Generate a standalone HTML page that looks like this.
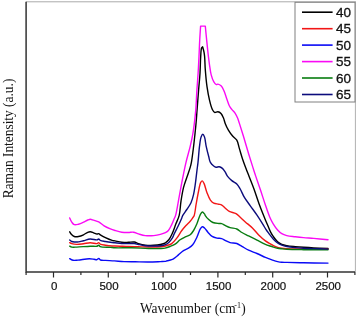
<!DOCTYPE html>
<html lang="en"><head><meta charset="utf-8"><title>Raman spectra</title>
<style>html,body{margin:0;padding:0;background:#fff;}body{width:357px;height:317px;overflow:hidden;}</style>
</head><body>
<svg width="357" height="317" viewBox="0 0 357 317" style="display:block">
<rect x="0" y="0" width="357" height="317" fill="#fff"/>
<path d="M26.1,1.8 H355.9" fill="none" stroke="#aaaaaa" stroke-width="1"/>
<path d="M355.4,1.8 V272.0" fill="none" stroke="#b0b0b0" stroke-width="1"/>
<path d="M69.70,231.80 C69.70,231.80 70.99,234.00 71.80,234.80 C72.54,235.53 73.30,236.19 74.30,236.50 C75.47,236.86 77.06,236.74 78.50,236.50 C80.12,236.23 81.94,235.52 83.50,234.80 C85.00,234.11 86.43,232.78 87.70,232.30 C88.64,231.94 89.39,231.75 90.30,231.80 C91.34,231.85 92.50,232.44 93.60,232.80 C94.73,233.17 96.05,233.95 97.00,234.00 C97.66,234.04 98.17,233.49 98.70,233.60 C99.27,233.72 99.60,234.34 100.30,234.80 C101.50,235.59 103.55,236.81 105.40,237.70 C107.45,238.69 110.31,239.89 112.10,240.40 C113.25,240.73 113.84,240.68 115.00,240.90 C116.77,241.24 119.45,242.07 121.70,242.30 C123.92,242.53 126.24,242.35 128.40,242.30 C130.43,242.25 132.53,241.72 134.30,242.00 C135.85,242.24 136.91,243.13 138.50,243.60 C140.48,244.19 142.90,244.81 145.30,245.10 C147.94,245.42 151.06,245.43 153.70,245.30 C156.06,245.19 158.35,244.97 160.40,244.50 C162.21,244.09 163.96,243.63 165.40,242.80 C166.73,242.03 167.76,241.10 168.80,239.80 C170.12,238.15 171.20,235.79 172.30,233.40 C173.60,230.56 174.71,226.89 175.90,223.80 C177.01,220.90 178.38,218.63 179.20,215.40 C180.24,211.32 180.27,205.79 181.00,201.10 C181.71,196.52 182.44,191.74 183.50,187.60 C184.43,183.96 185.68,180.86 186.80,177.50 C187.92,174.13 189.40,170.20 190.20,167.40 C190.76,165.46 191.00,164.55 191.40,162.40 C192.12,158.59 192.99,151.33 193.60,146.40 C194.12,142.17 194.48,138.53 194.90,134.60 C195.32,130.67 195.74,126.86 196.10,122.80 C196.48,118.48 196.73,114.28 197.10,109.40 C197.55,103.53 198.10,96.23 198.60,90.00 C199.07,84.20 199.65,78.80 200.00,73.20 C200.35,67.60 200.36,61.05 200.70,56.40 C200.94,53.08 200.95,49.35 201.60,47.90 C201.87,47.29 202.60,46.80 202.60,46.80 C202.60,46.80 203.66,50.42 204.00,52.10 C204.30,53.60 204.42,54.57 204.60,56.40 C204.91,59.63 204.94,65.08 205.30,69.80 C205.71,75.11 206.24,81.41 207.00,86.70 C207.68,91.44 208.52,96.06 209.50,100.10 C210.33,103.51 211.18,107.22 212.30,109.40 C213.00,110.76 213.63,112.04 214.60,112.40 C215.52,112.74 216.84,111.54 217.90,111.70 C218.98,111.86 220.13,112.51 221.00,113.40 C222.07,114.49 222.80,116.45 223.50,118.10 C224.21,119.78 224.47,121.56 225.20,123.40 C226.05,125.53 227.16,127.99 228.40,130.10 C229.63,132.19 231.12,134.25 232.60,136.00 C233.94,137.58 235.71,138.39 236.80,140.20 C238.13,142.40 238.49,145.62 239.40,148.60 C240.44,152.00 241.54,156.03 242.70,159.50 C243.78,162.74 244.98,165.86 246.10,168.80 C247.11,171.47 248.00,173.59 249.10,176.40 C250.47,179.90 252.12,183.90 253.70,188.20 C255.57,193.29 257.55,199.74 259.50,205.00 C261.25,209.74 263.25,214.60 264.80,218.40 C265.96,221.24 266.91,223.45 267.90,225.80 C268.80,227.93 269.54,230.02 270.50,231.90 C271.39,233.63 272.28,235.12 273.40,236.70 C274.62,238.42 276.08,240.49 277.60,241.80 C278.91,242.92 280.29,243.67 281.80,244.30 C283.35,244.95 284.90,245.24 286.80,245.60 C289.23,246.06 292.40,246.32 295.20,246.60 C298.00,246.88 300.67,247.09 303.60,247.30 C306.81,247.53 310.04,247.73 313.70,247.90 C318.05,248.11 328.00,248.40 328.00,248.40" fill="none" stroke="#000000" stroke-width="1.4" stroke-linejoin="round" stroke-linecap="round"/>
<path d="M69.70,242.70 C69.70,242.70 70.93,243.44 71.80,243.70 C73.09,244.09 75.01,244.37 76.80,244.40 C78.87,244.44 81.26,243.98 83.50,243.70 C85.76,243.42 88.04,242.71 90.30,242.70 C92.54,242.69 95.53,243.86 97.00,243.60 C97.78,243.46 98.16,242.64 98.70,242.70 C99.27,242.77 99.55,243.72 100.30,244.10 C101.47,244.69 103.58,244.90 105.40,245.20 C107.47,245.55 110.33,245.89 112.10,246.00 C113.26,246.07 113.68,245.98 115.00,246.00 C117.84,246.05 124.25,246.36 128.40,246.50 C132.00,246.62 135.13,246.72 138.50,246.80 C141.87,246.88 145.10,247.00 148.60,247.00 C152.38,247.01 157.31,247.07 160.40,246.80 C162.43,246.62 163.94,246.35 165.40,246.00 C166.57,245.72 167.47,245.39 168.50,245.00 C169.57,244.60 170.60,244.38 171.70,243.60 C173.32,242.45 175.19,240.16 176.80,238.10 C178.57,235.84 180.14,232.73 181.80,230.50 C183.21,228.61 184.57,227.06 186.00,225.50 C187.37,224.01 189.02,222.67 190.20,221.30 C191.19,220.15 191.99,218.96 192.70,217.90 C193.29,217.02 193.76,216.59 194.20,215.40 C195.06,213.08 195.41,208.25 196.10,204.40 C196.86,200.15 197.76,194.94 198.60,191.00 C199.27,187.87 199.67,184.27 200.60,182.60 C201.09,181.72 201.76,180.85 202.30,180.90 C202.90,180.96 203.44,182.25 204.00,183.40 C205.01,185.47 205.88,189.80 207.00,192.70 C208.03,195.37 209.06,198.36 210.40,200.20 C211.39,201.56 212.37,202.53 213.70,203.20 C215.13,203.92 217.33,203.84 218.80,204.20 C219.94,204.48 220.83,204.56 221.80,205.10 C222.95,205.74 223.92,207.01 225.10,208.00 C226.41,209.10 227.64,210.48 229.30,211.40 C231.20,212.45 234.07,212.61 236.00,213.70 C237.76,214.70 238.99,216.17 240.50,217.50 C242.09,218.90 243.53,220.33 245.30,221.90 C247.42,223.78 250.17,225.82 252.40,228.00 C254.64,230.19 256.50,232.83 258.70,235.00 C260.84,237.12 263.28,239.33 265.40,240.90 C267.10,242.16 268.84,243.06 270.30,243.90 C271.44,244.56 272.27,245.06 273.40,245.60 C274.68,246.21 276.18,246.86 277.60,247.30 C278.98,247.72 280.33,247.97 281.80,248.20 C283.39,248.45 284.64,248.57 286.80,248.70 C290.75,248.93 297.48,248.91 303.60,249.00 C310.98,249.11 328.00,249.30 328.00,249.30" fill="none" stroke="#f21616" stroke-width="1.4" stroke-linejoin="round" stroke-linecap="round"/>
<path d="M69.70,258.70 C69.70,258.70 71.75,260.04 73.00,260.30 C74.46,260.60 76.01,260.26 78.00,260.10 C80.99,259.85 86.24,258.73 89.20,258.70 C91.13,258.68 92.62,259.00 94.00,259.20 C95.06,259.35 95.97,259.87 96.80,259.70 C97.56,259.55 98.18,258.34 98.80,258.40 C99.41,258.45 99.71,259.65 100.50,260.00 C101.65,260.51 103.52,260.27 105.40,260.40 C107.95,260.57 111.35,260.70 114.40,260.90 C117.55,261.10 120.67,261.45 124.00,261.60 C127.59,261.76 131.30,261.74 135.20,261.80 C139.47,261.87 144.28,262.04 148.60,262.00 C152.66,261.96 157.38,261.72 160.40,261.60 C162.29,261.53 163.77,261.60 165.00,261.40 C165.85,261.26 166.26,261.02 167.10,260.80 C168.33,260.48 170.33,260.26 171.70,259.70 C172.94,259.19 173.92,258.47 175.00,257.70 C176.15,256.88 177.15,255.93 178.40,254.90 C179.93,253.64 181.74,251.84 183.50,250.70 C185.12,249.65 186.96,249.19 188.50,248.20 C190.02,247.22 191.43,246.31 192.70,244.80 C194.31,242.88 195.64,239.84 196.90,237.20 C198.18,234.51 199.13,230.57 200.30,228.80 C200.95,227.81 201.58,226.90 202.30,226.80 C202.98,226.70 203.75,227.38 204.50,228.00 C205.60,228.92 206.67,230.83 207.90,232.20 C209.19,233.63 210.51,235.41 212.10,236.40 C213.60,237.33 215.45,237.73 217.10,238.10 C218.65,238.44 220.32,238.18 221.70,238.60 C222.96,238.99 223.85,239.79 225.10,240.40 C226.59,241.12 228.27,242.09 230.10,242.60 C232.13,243.17 234.77,242.83 236.80,243.50 C238.68,244.12 240.09,245.28 241.90,246.30 C243.99,247.48 246.19,249.03 248.60,250.20 C251.20,251.46 254.22,252.31 257.00,253.50 C259.82,254.71 263.00,256.40 265.40,257.40 C267.15,258.13 268.58,258.57 270.00,259.10 C271.22,259.56 272.20,260.00 273.40,260.40 C274.72,260.84 276.19,261.28 277.60,261.60 C278.99,261.91 280.33,262.16 281.80,262.30 C283.39,262.45 284.64,262.35 286.80,262.40 C290.75,262.49 297.48,262.69 303.60,262.80 C310.98,262.93 328.00,263.10 328.00,263.10" fill="none" stroke="#0a0af5" stroke-width="1.4" stroke-linejoin="round" stroke-linecap="round"/>
<path d="M69.70,218.00 C69.70,218.00 70.96,221.04 71.80,222.20 C72.53,223.21 73.25,224.34 74.30,224.70 C75.44,225.10 77.06,224.57 78.50,224.20 C80.12,223.79 81.92,222.93 83.50,222.20 C84.98,221.52 86.45,220.52 87.70,220.00 C88.65,219.61 89.38,219.20 90.30,219.20 C91.33,219.20 92.38,219.81 93.60,220.20 C95.12,220.68 97.07,221.05 98.70,221.90 C100.45,222.81 101.86,224.48 103.70,225.60 C105.72,226.83 108.35,228.04 110.40,228.90 C112.05,229.59 113.31,229.99 115.00,230.50 C117.01,231.10 119.45,231.87 121.70,232.20 C123.92,232.53 126.32,232.51 128.40,232.50 C130.22,232.49 131.83,231.97 133.50,232.20 C135.20,232.43 136.69,233.37 138.50,233.90 C140.58,234.51 142.89,235.30 145.30,235.60 C147.93,235.92 151.07,235.83 153.70,235.60 C156.07,235.39 158.35,234.93 160.40,234.40 C162.21,233.93 163.99,233.43 165.40,232.70 C166.58,232.08 167.48,231.54 168.40,230.50 C169.64,229.09 170.72,226.58 171.70,224.60 C172.65,222.68 173.49,220.48 174.20,218.80 C174.74,217.52 175.13,216.96 175.60,215.40 C176.53,212.30 177.44,206.18 178.40,201.10 C179.49,195.33 180.57,188.89 181.80,182.60 C183.09,176.01 184.51,168.72 186.00,162.40 C187.33,156.74 189.03,151.34 190.20,146.40 C191.20,142.18 192.00,138.54 192.70,134.60 C193.40,130.68 193.90,126.86 194.40,122.80 C194.94,118.48 195.41,114.28 195.80,109.40 C196.27,103.53 196.50,96.23 196.90,90.00 C197.27,84.20 197.75,78.80 198.10,73.20 C198.45,67.60 198.73,61.93 199.00,56.40 C199.26,51.00 199.42,45.58 199.70,40.40 C199.96,35.50 200.60,26.10 200.60,26.10 C200.60,26.10 205.30,26.10 205.30,26.10 C205.30,26.10 206.20,35.50 206.70,40.40 C207.23,45.58 207.87,51.92 208.40,56.40 C208.79,59.65 209.06,61.88 209.50,64.80 C209.98,68.02 210.40,71.91 211.20,74.90 C211.87,77.40 212.68,79.88 213.70,81.60 C214.46,82.88 215.46,84.36 216.30,84.60 C216.85,84.75 217.28,84.04 217.90,84.10 C218.84,84.20 220.33,85.01 221.30,86.00 C222.52,87.24 223.33,89.41 224.20,91.40 C225.19,93.68 225.92,96.55 226.80,99.00 C227.63,101.31 228.34,103.84 229.30,105.70 C230.06,107.17 230.86,108.18 231.80,109.40 C232.81,110.71 234.23,111.85 235.20,113.30 C236.21,114.81 237.00,116.60 237.70,118.30 C238.39,119.97 238.72,121.29 239.40,123.40 C240.50,126.80 242.16,132.07 243.60,136.80 C245.21,142.10 246.99,148.40 248.60,153.70 C250.04,158.43 251.51,163.04 252.80,167.10 C253.88,170.48 254.68,173.02 255.80,176.40 C257.15,180.47 258.85,185.19 260.40,189.80 C262.05,194.70 263.77,200.27 265.40,205.00 C266.83,209.17 268.15,213.31 269.60,216.70 C270.77,219.43 271.84,221.65 273.20,223.90 C274.52,226.07 276.05,228.29 277.60,230.00 C278.94,231.47 280.25,232.76 281.80,233.70 C283.32,234.62 284.89,235.12 286.80,235.60 C289.21,236.21 292.40,236.37 295.20,236.70 C298.00,237.03 300.67,237.33 303.60,237.60 C306.81,237.90 310.04,238.08 313.70,238.40 C318.05,238.79 328.00,239.80 328.00,239.80" fill="none" stroke="#fa0af5" stroke-width="1.4" stroke-linejoin="round" stroke-linecap="round"/>
<path d="M69.70,246.20 C69.70,246.20 70.93,246.92 71.80,247.10 C73.09,247.36 74.73,247.17 76.80,247.10 C80.21,246.99 86.58,246.32 90.30,246.20 C92.92,246.11 95.54,246.60 97.00,246.20 C97.79,245.98 98.16,245.15 98.70,245.20 C99.26,245.25 99.45,246.24 100.30,246.60 C102.16,247.38 107.69,247.17 110.40,247.40 C112.23,247.55 112.98,247.71 115.00,247.80 C118.84,247.97 126.20,247.68 131.80,247.80 C137.40,247.92 143.49,248.39 148.60,248.50 C152.88,248.59 157.38,248.63 160.40,248.50 C162.29,248.42 163.45,248.41 165.00,248.10 C166.65,247.77 168.34,247.14 170.00,246.50 C171.71,245.84 173.48,245.24 175.10,244.20 C176.86,243.06 178.36,241.04 180.10,239.80 C181.73,238.63 183.49,237.76 185.20,236.90 C186.85,236.07 188.80,235.77 190.20,234.70 C191.59,233.63 192.56,232.13 193.60,230.50 C194.83,228.58 195.85,226.24 196.90,223.80 C198.10,221.00 199.15,216.67 200.30,214.60 C200.96,213.40 201.58,212.07 202.30,212.00 C202.98,211.93 203.95,213.20 204.50,213.90 C204.98,214.51 205.01,215.17 205.50,215.90 C206.22,216.99 207.48,218.51 208.70,219.60 C209.94,220.71 211.30,221.85 212.90,222.50 C214.63,223.20 217.17,223.33 218.80,223.50 C219.93,223.61 220.73,223.34 221.70,223.60 C222.82,223.90 223.85,224.79 225.10,225.40 C226.59,226.12 228.28,227.02 230.10,227.60 C232.14,228.25 234.79,228.14 236.80,229.00 C238.71,229.81 240.04,231.40 241.90,232.50 C243.94,233.71 246.24,234.71 248.60,235.90 C251.24,237.23 254.20,238.70 257.00,240.10 C259.80,241.50 262.99,243.26 265.40,244.30 C267.14,245.05 268.58,245.51 270.00,246.00 C271.21,246.42 272.20,246.75 273.40,247.10 C274.72,247.49 276.19,247.92 277.60,248.20 C278.99,248.48 280.34,248.62 281.80,248.80 C283.39,248.99 284.64,249.17 286.80,249.30 C290.75,249.54 297.48,249.61 303.60,249.70 C310.98,249.80 328.00,249.80 328.00,249.80" fill="none" stroke="#087c10" stroke-width="1.4" stroke-linejoin="round" stroke-linecap="round"/>
<path d="M69.70,239.90 C69.70,239.90 71.03,241.15 71.80,241.50 C72.56,241.84 73.35,241.92 74.30,242.00 C75.51,242.11 77.05,242.09 78.50,241.90 C80.10,241.69 81.71,241.14 83.50,240.70 C85.59,240.19 88.03,239.13 90.30,239.00 C92.53,238.88 95.53,240.16 97.00,239.90 C97.78,239.76 98.16,238.94 98.70,239.00 C99.27,239.07 99.55,240.02 100.30,240.40 C101.47,240.99 103.58,241.17 105.40,241.50 C107.48,241.88 110.33,242.28 112.10,242.50 C113.26,242.65 113.83,242.68 115.00,242.80 C116.77,242.98 119.46,243.37 121.70,243.50 C123.93,243.63 126.24,243.60 128.40,243.60 C130.43,243.60 132.51,243.31 134.30,243.50 C135.83,243.67 136.93,244.17 138.50,244.50 C140.49,244.91 142.90,245.45 145.30,245.70 C147.94,245.98 151.06,246.01 153.70,246.00 C156.06,245.99 158.34,245.97 160.40,245.70 C162.20,245.46 163.94,245.21 165.40,244.60 C166.70,244.06 167.74,243.34 168.80,242.40 C170.00,241.33 171.19,239.83 172.10,238.40 C172.99,237.00 173.37,235.63 174.20,233.90 C175.35,231.53 177.10,228.24 178.40,225.50 C179.62,222.92 181.02,219.75 181.80,217.90 C182.25,216.85 182.28,216.38 182.80,215.40 C183.64,213.81 185.47,211.55 186.80,209.50 C188.21,207.33 189.88,205.16 191.00,202.70 C192.17,200.12 192.90,197.25 193.60,194.30 C194.36,191.11 194.78,187.81 195.30,184.20 C195.90,180.06 196.41,174.75 196.90,170.80 C197.29,167.67 197.63,165.65 198.00,162.40 C198.50,157.92 198.89,151.00 199.50,146.40 C199.97,142.87 200.30,139.25 201.10,137.10 C201.57,135.84 202.23,134.30 202.80,134.30 C203.37,134.30 204.02,135.84 204.50,137.10 C205.32,139.25 205.52,143.25 206.20,146.40 C206.91,149.71 207.92,153.59 208.70,156.50 C209.30,158.74 209.48,160.76 210.40,162.40 C211.22,163.86 212.63,165.18 213.70,166.00 C214.48,166.60 215.14,167.06 216.00,167.20 C216.96,167.36 218.16,166.53 219.20,166.70 C220.30,166.88 221.45,167.60 222.40,168.40 C223.45,169.28 224.26,170.63 225.10,171.90 C226.00,173.27 226.54,174.99 227.60,176.40 C228.74,177.91 230.27,179.34 231.80,180.60 C233.34,181.87 235.40,182.60 236.80,184.00 C238.20,185.40 239.07,187.08 240.20,189.00 C241.61,191.40 242.76,194.66 244.40,197.40 C246.11,200.27 248.26,202.94 250.30,205.80 C252.45,208.83 254.88,211.98 257.00,215.10 C259.07,218.15 261.28,221.67 262.90,224.30 C264.09,226.24 264.87,227.83 265.90,229.40 C266.84,230.84 267.71,231.97 268.80,233.40 C270.10,235.10 271.67,237.27 273.20,238.90 C274.61,240.40 276.08,241.84 277.60,242.90 C278.96,243.85 280.31,244.51 281.80,245.10 C283.36,245.72 284.90,246.11 286.80,246.50 C289.22,247.00 292.40,247.32 295.20,247.60 C298.00,247.88 300.67,248.04 303.60,248.20 C306.81,248.38 310.04,248.46 313.70,248.60 C318.05,248.76 328.00,249.10 328.00,249.10" fill="none" stroke="#0c0c7c" stroke-width="1.4" stroke-linejoin="round" stroke-linecap="round"/>
<path d="M26.1,1.8 V272.0 H355" fill="none" stroke="#333" stroke-width="1.5"/>
<path d="M26.1,272.0 v3" stroke="#2a2a2a" stroke-width="1.2" fill="none"/>
<path d="M53.5,272.0 v5.5" stroke="#2a2a2a" stroke-width="1.2" fill="none"/>
<path d="M80.9,272.0 v3" stroke="#2a2a2a" stroke-width="1.2" fill="none"/>
<path d="M108.3,272.0 v5.5" stroke="#2a2a2a" stroke-width="1.2" fill="none"/>
<path d="M135.7,272.0 v3" stroke="#2a2a2a" stroke-width="1.2" fill="none"/>
<path d="M163.1,272.0 v5.5" stroke="#2a2a2a" stroke-width="1.2" fill="none"/>
<path d="M190.5,272.0 v3" stroke="#2a2a2a" stroke-width="1.2" fill="none"/>
<path d="M217.9,272.0 v5.5" stroke="#2a2a2a" stroke-width="1.2" fill="none"/>
<path d="M245.3,272.0 v3" stroke="#2a2a2a" stroke-width="1.2" fill="none"/>
<path d="M272.7,272.0 v5.5" stroke="#2a2a2a" stroke-width="1.2" fill="none"/>
<path d="M300.1,272.0 v3" stroke="#2a2a2a" stroke-width="1.2" fill="none"/>
<path d="M327.5,272.0 v5.5" stroke="#2a2a2a" stroke-width="1.2" fill="none"/>
<path d="M354.9,272.0 v3" stroke="#2a2a2a" stroke-width="1.2" fill="none"/>
<text x="54.2" y="290.2" text-anchor="middle" font-family="Liberation Sans, Arial, sans-serif" font-size="11.5" fill="#111" stroke="#111" stroke-width="0.2">0</text>
<text x="109.0" y="290.2" text-anchor="middle" font-family="Liberation Sans, Arial, sans-serif" font-size="11.5" fill="#111" stroke="#111" stroke-width="0.2">500</text>
<text x="163.8" y="290.2" text-anchor="middle" font-family="Liberation Sans, Arial, sans-serif" font-size="11.5" fill="#111" stroke="#111" stroke-width="0.2">1000</text>
<text x="218.6" y="290.2" text-anchor="middle" font-family="Liberation Sans, Arial, sans-serif" font-size="11.5" fill="#111" stroke="#111" stroke-width="0.2">1500</text>
<text x="273.4" y="290.2" text-anchor="middle" font-family="Liberation Sans, Arial, sans-serif" font-size="11.5" fill="#111" stroke="#111" stroke-width="0.2">2000</text>
<text x="328.2" y="290.2" text-anchor="middle" font-family="Liberation Sans, Arial, sans-serif" font-size="11.5" fill="#111" stroke="#111" stroke-width="0.2">2500</text>
<text transform="translate(0,313.1) scale(1,1.1)" font-family="Liberation Serif, Times New Roman, serif" font-size="13.45" fill="#111"><tspan x="139.9">Wavenumber</tspan><tspan x="214.7">(cm</tspan><tspan x="234.3" font-size="8" dy="-5">-1</tspan><tspan x="241.3" dy="5">)</tspan></text>
<text transform="translate(13.3,138.5) rotate(-90) scale(1,1.13)" text-anchor="middle" font-family="Liberation Serif, Times New Roman, serif" font-size="13.4" fill="#111">Raman Intensity (a.u.)</text>
<rect x="295" y="2.3" width="60" height="99.7" fill="#fff" stroke="#808080" stroke-width="1"/>
<path d="M302,12.2 H332.6" stroke="#000000" stroke-width="1.6" fill="none"/>
<text x="336.1" y="16.9" font-family="Liberation Sans, Arial, sans-serif" font-size="13.5" fill="#111" stroke="#111" stroke-width="0.3">40</text>
<path d="M302,28.7 H332.6" stroke="#f21616" stroke-width="1.6" fill="none"/>
<text x="336.1" y="33.4" font-family="Liberation Sans, Arial, sans-serif" font-size="13.5" fill="#111" stroke="#111" stroke-width="0.3">45</text>
<path d="M302,45.1 H332.6" stroke="#0a0af5" stroke-width="1.6" fill="none"/>
<text x="336.1" y="49.8" font-family="Liberation Sans, Arial, sans-serif" font-size="13.5" fill="#111" stroke="#111" stroke-width="0.3">50</text>
<path d="M302,61.6 H332.6" stroke="#fa0af5" stroke-width="1.6" fill="none"/>
<text x="336.1" y="66.3" font-family="Liberation Sans, Arial, sans-serif" font-size="13.5" fill="#111" stroke="#111" stroke-width="0.3">55</text>
<path d="M302,78.0 H332.6" stroke="#087c10" stroke-width="1.6" fill="none"/>
<text x="336.1" y="82.7" font-family="Liberation Sans, Arial, sans-serif" font-size="13.5" fill="#111" stroke="#111" stroke-width="0.3">60</text>
<path d="M302,94.5 H332.6" stroke="#0c0c7c" stroke-width="1.6" fill="none"/>
<text x="336.1" y="99.2" font-family="Liberation Sans, Arial, sans-serif" font-size="13.5" fill="#111" stroke="#111" stroke-width="0.3">65</text>
</svg>
</body></html>
